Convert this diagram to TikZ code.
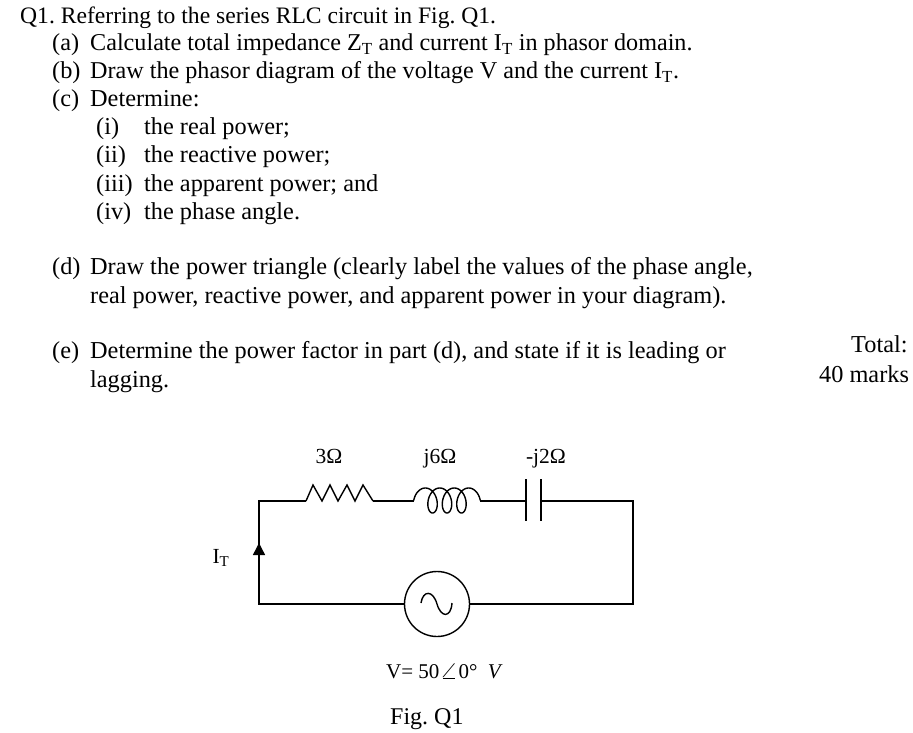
\documentclass[tikz,border=0pt]{standalone}
\usepackage{fontspec}
\setmainfont{Liberation Serif}
\usetikzlibrary{arrows.meta}
\tikzset{
	qline/.style={anchor=base west,inner sep=0pt,font=\fontsize{24.3}{24}\selectfont},
	circlabel/.style={anchor=base,inner sep=0pt,font=\fontsize{21.5}{21}\selectfont},
	wire/.style={line width=1.4pt}
}
\newcommand{\subT}{\textsubscript{T}}
\frenchspacing
\begin{document}
\begin{tikzpicture}[x=1pt,y=-1pt]
	\useasboundingbox (0,0) rectangle (913,733);
	% question text
	\node[qline,font=\fontsize{23.6}{24}\selectfont] (qone) at (20,24) {Q1. Referring to the series RLC circuit in Fig. Q1.};
	\node[qline] (qa) at (52,51) {(a)};
	\node[qline,font=\fontsize{24.15}{24}\selectfont] (qatext) at (90,51) {Calculate total impedance Z\subT{} and current I\subT{} in phasor domain.};
	\node[qline] (qb) at (52,79) {(b)};
	\node[qline,font=\fontsize{24.15}{24}\selectfont] (qbtext) at (90,79) {Draw the phasor diagram of the voltage V and the current I\subT.};
	\node[qline] (qc) at (52,107) {(c)};
	\node[qline] (qctext) at (90,107) {Determine:};
	\node[qline] (qi) at (96,135) {(i)};
	\node[qline] (qitext) at (144,135) {the real power;};
	\node[qline] (qii) at (96,163) {(ii)};
	\node[qline] (qiitext) at (144,163) {the reactive power;};
	\node[qline] (qiii) at (96,191) {(iii)};
	\node[qline] (qiiitext) at (144,191) {the apparent power; and};
	\node[qline] (qiv) at (96,219) {(iv)};
	\node[qline] (qivtext) at (144,219) {the phase angle.};
	\node[qline] (qd) at (52,274) {(d)};
	\node[qline] (qdtext) at (90,274) {Draw the power triangle (clearly label the values of the phase angle,};
	\node[qline] (qdmore) at (90,303) {real power, reactive power, and apparent power in your diagram).};
	\node[qline] (qe) at (52,358) {(e)};
	\node[qline] (qetext) at (90,358) {Determine the power factor in part (d), and state if it is leading or};
	\node[qline] (qemore) at (90,387) {lagging.};
	\node[qline] (total) at (851,352) {Total:};
	\node[qline] (marks) at (819,382) {40 marks};
	% circuit corners and terminals
	\coordinate (tl) at (259,501);
	\coordinate (tr) at (633,501);
	\coordinate (bl) at (259,604);
	\coordinate (br) at (633,604);
	\coordinate (resin) at (306,501);
	\coordinate (resout) at (373,501);
	\coordinate (indin) at (414,501);
	\coordinate (indout) at (480,501);
	\coordinate (capl) at (526,501);
	\coordinate (capr) at (541,501);
	\coordinate (arrowtip) at (259,543);
	\node[draw,circle,line width=1.4pt,minimum size=65pt,inner sep=0pt] (src) at (437,604) {};
	% wires
	\draw[wire] (src.west)--(bl)--(tl)--(resin);
	\draw[wire] (resout)--(indin);
	\draw[wire] (indout)--(capl);
	\draw[wire] (capr)--(tr)--(br)--(src.east);
	\draw[wire,-{Triangle[length=12pt,width=12pt]}] (bl)--(arrowtip);
	% resistor
	\draw[wire] (resin)--(313,485)--(322,501)--(330,485)--(338,501)--(347,485)--(355,501)--(363,485)--(resout);
	% inductor
	\draw[wire] plot[domain=-90:1170,samples=200,smooth] ({447+2.3*(\x-540)*0.01745+8*sin(\x)},{500.5-12.5*cos(\x)});
	% capacitor
	\draw[wire] (526,479)--(526,521);
	\draw[wire] (541,479)--(541,521);
	% source wave
	\draw[wire] (421,603) .. controls (423,590) and (433,590) .. (437,604) .. controls (441,618) and (451,618) .. (452,603);
	% circuit labels
	\node[circlabel] (rlabel) at (329,463) {3Ω};
	\node[circlabel] (llabel) at (440,463) {j6Ω};
	\node[circlabel] (clabel) at (546,463) {-j2Ω};
	\node[circlabel] (ilabel) at (221,563) {I\subT};
	\node[anchor=base west,inner sep=0pt,font=\fontsize{21}{21}\selectfont] (vlabel) at (386,678) {V= 50\scalebox{1.7}[1.05]{$\angle$}0°\ \ \textit{V}};
	\node[anchor=base west,inner sep=0pt,font=\fontsize{24}{24}\selectfont] (figlabel) at (390,724) {Fig. Q1};
\end{tikzpicture}
\end{document}
